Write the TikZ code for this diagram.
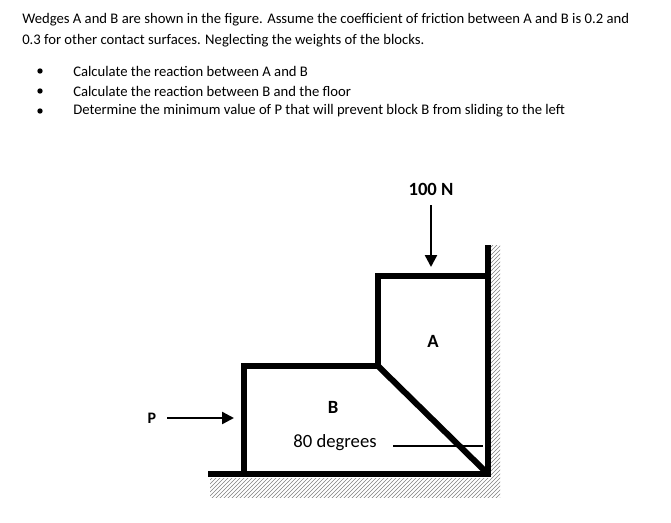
\documentclass[tikz,border=0pt]{standalone}
\usepackage{fontspec}
\setmainfont{Carlito}
\usetikzlibrary{patterns,arrows.meta}
\tikzset{thick line/.style={line width=4.5pt},
  txt/.style={anchor=west,inner sep=0pt,font=\fontsize{11}{13}\selectfont},
  lbl/.style={inner sep=0pt,font=\fontsize{14}{16}\selectfont\bfseries},
  force/.style={line width=1.8pt,-{Triangle[length=9pt,width=9pt]}},
  hatch/.style={pattern=north east lines, pattern color=gray}}
\begin{document}
\begin{tikzpicture}[x=0.75pt,y=-0.75pt]
\useasboundingbox (0,0) rectangle (671,522);
\node[txt] (t1) at (22,20) {Wedges A and B are shown in the figure. Assume the coefficient of friction between A and B is 0.2 and};
\node[txt] (t2) at (22,41) {0.3 for other contact surfaces. Neglecting the weights of the blocks.};
\foreach \y/\s [count=\i] in {71/Calculate the reaction between A and B,91/Calculate the reaction between B and the floor,111/Determine the minimum value of P that will prevent block B from sliding to the left}{
  \node[txt] (b\i) at (73,\y) {\s};
  \fill (40,\y) circle (2.7);
}
% hatching
\fill[hatch] (210,478) rectangle (490,497);
\fill[hatch] (490,245) rectangle (500,497);
% blocks
\draw[thick line] (208,474) -- (491,474);
\draw[thick line] (488,245) -- (488,476);
\draw[thick line,line join=miter] (244,476) -- (244,366) -- (378,366);
\draw[thick line,line join=miter] (378,366) -- (378,276) -- (488,276);
\draw[thick line] (378,366) -- (486,472);
\node[lbl] (A) at (433,341) {A};
\node[lbl] (B) at (333,407) {B};
\node[inner sep=0pt,font=\fontsize{14}{16}\selectfont] (deg) at (335,443) {80 degrees};
\coordinate (d1) at (393,446);
\coordinate (d2) at (483,446);
\draw[line width=1.5pt] (d1) -- (d2);
\node[lbl,font=\fontsize{12}{14}\selectfont\bfseries] (P) at (152,418) {P};
\coordinate (p1) at (167,418); \coordinate (p2) at (234,418);
\draw[force] (p1) -- (p2);
\node[lbl] (N) at (431,189) {100 N};
\coordinate (n1) at (431,205); \coordinate (n2) at (431,267);
\draw[force] (n1) -- (n2);
\end{tikzpicture}
\end{document}
